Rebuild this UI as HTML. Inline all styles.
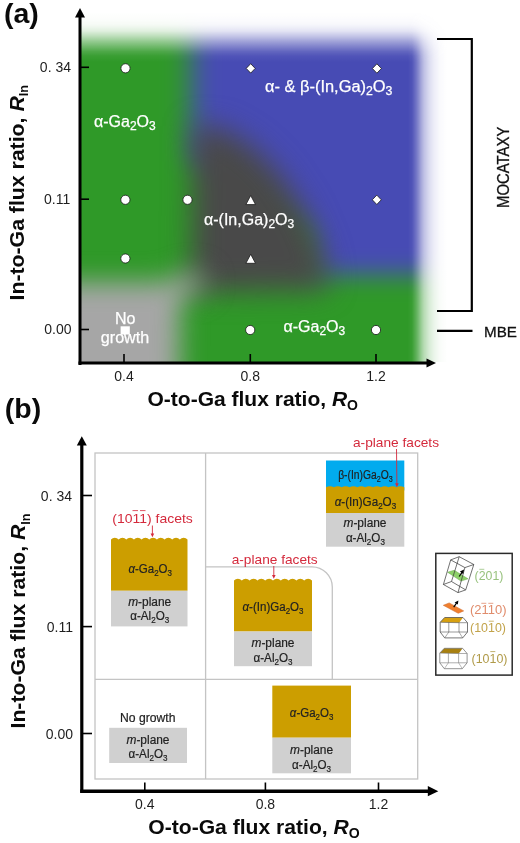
<!DOCTYPE html>
<html><head><meta charset="utf-8"><style>
html,body{margin:0;padding:0;background:#fff;width:520px;height:843px;overflow:hidden}
svg{display:block}
text{font-family:"Liberation Sans",Arial,sans-serif}
.w{fill:#fff;font-size:16px;stroke:#fff;stroke-width:0.25px}
.ax{font-size:14px;fill:#1e1e1e}
.lb{font-weight:bold;font-size:21px;fill:#0a0a0a}
.c{font-size:12.3px;fill:#222;stroke:#222;stroke-width:0.2px}
.r{font-size:13px;fill:#d42a3c}
</style></head><body>
<svg width="520" height="843" viewBox="0 0 520 843">
<defs>
<filter id="bl" x="-30%" y="-30%" width="160%" height="160%" color-interpolation-filters="sRGB"><feGaussianBlur stdDeviation="14 12"/></filter>
<filter id="bl2" x="-50%" y="-50%" width="200%" height="200%" color-interpolation-filters="sRGB"><feGaussianBlur stdDeviation="13"/></filter>
<filter id="bl3" x="-50%" y="-50%" width="200%" height="200%" color-interpolation-filters="sRGB"><feGaussianBlur stdDeviation="14"/></filter>
<linearGradient id="gtop" gradientUnits="userSpaceOnUse" x1="0" y1="0" x2="0" y2="100"><stop offset="0.1200" stop-color="#fff" stop-opacity="0"/><stop offset="0.2000" stop-color="#fff" stop-opacity="0.02"/><stop offset="0.2500" stop-color="#fff" stop-opacity="0.05"/><stop offset="0.3100" stop-color="#fff" stop-opacity="0.15"/><stop offset="0.3700" stop-color="#fff" stop-opacity="0.35"/><stop offset="0.4100" stop-color="#fff" stop-opacity="0.5"/><stop offset="0.4600" stop-color="#fff" stop-opacity="0.67"/><stop offset="0.5150" stop-color="#fff" stop-opacity="0.85"/><stop offset="0.5600" stop-color="#fff" stop-opacity="0.95"/><stop offset="0.6200" stop-color="#fff" stop-opacity="1"/></linearGradient>
<linearGradient id="gright" gradientUnits="userSpaceOnUse" x1="400" y1="0" x2="460" y2="0"><stop offset="0.1333" stop-color="#fff" stop-opacity="1"/><stop offset="0.2000" stop-color="#fff" stop-opacity="0.95"/><stop offset="0.2667" stop-color="#fff" stop-opacity="0.78"/><stop offset="0.3083" stop-color="#fff" stop-opacity="0.65"/><stop offset="0.3500" stop-color="#fff" stop-opacity="0.5"/><stop offset="0.4000" stop-color="#fff" stop-opacity="0.35"/><stop offset="0.4833" stop-color="#fff" stop-opacity="0.2"/><stop offset="0.5667" stop-color="#fff" stop-opacity="0.1"/><stop offset="0.6667" stop-color="#fff" stop-opacity="0.03"/><stop offset="0.7833" stop-color="#fff" stop-opacity="0"/></linearGradient>
<mask id="mtop" maskUnits="userSpaceOnUse" x="0" y="0" width="520" height="420"><rect x="0" y="0" width="520" height="100" fill="url(#gtop)"/><rect x="0" y="100" width="520" height="320" fill="#fff"/></mask>
<mask id="mright" maskUnits="userSpaceOnUse" x="0" y="0" width="520" height="420"><rect x="0" y="0" width="400" height="420" fill="#fff"/><rect x="400" y="0" width="60" height="420" fill="url(#gright)"/></mask>
<clipPath id="cpa"><rect x="81" y="0" width="439" height="362"/></clipPath>
</defs>
<text x="4" y="22.8" font-weight="bold" font-size="28.5" fill="#0a0a0a">(a)</text>
<g clip-path="url(#cpa)"><g mask="url(#mtop)"><g mask="url(#mright)"><g filter="url(#bl)">
<rect x="40" y="-30" width="460" height="430" fill="#2f9928"/>
<polygon points="191,-30 500,-30 500,275 310,275 310,230 250,190 191,160" fill="#474bb4"/>
</g><g filter="url(#bl3)">
<polygon points="193,126 222,128 252,146 280,174 304,210 322,252 328,290 200,292 191,290" fill="#494949"/>
</g><g filter="url(#bl2)">
<ellipse cx="194" cy="283" rx="14" ry="12" fill="#7c7c7c"/>
<polygon points="40,282 166,282 188,270 190,292 180,302 179,400 40,400" fill="#a6a6a6"/>
</g></g></g></g>
<line x1="80" y1="15" x2="80" y2="365" stroke="#000" stroke-width="3"/>
<polygon points="80,8 75,17.5 85,17.5" fill="#000"/>
<line x1="78.5" y1="363" x2="428" y2="363" stroke="#000" stroke-width="3"/>
<polygon points="436,363 426.5,358.5 426.5,367.5" fill="#000"/>
<g stroke="#000" stroke-width="1.6">
<line x1="80" y1="67.3" x2="89" y2="67.3"/>
<line x1="80" y1="199.2" x2="89" y2="199.2"/>
<line x1="80" y1="329.5" x2="89" y2="329.5"/>
<line x1="124" y1="362" x2="124" y2="354"/>
<line x1="250.3" y1="362" x2="250.3" y2="354"/>
<line x1="376" y1="362" x2="376" y2="354"/>
</g>
<text class="ax" x="71" y="71.7" text-anchor="end">0. 34</text>
<text class="ax" x="70.2" y="203.6" text-anchor="end">0.11</text>
<text class="ax" x="71.5" y="334.3" text-anchor="end">0.00</text>
<text class="ax" x="124" y="380.8" text-anchor="middle">0.4</text>
<text class="ax" x="250.3" y="380.8" text-anchor="middle">0.8</text>
<text class="ax" x="376" y="380.8" text-anchor="middle">1.2</text>
<g fill="#fff" stroke="#1a1a1a" stroke-width="0.8">
<circle cx="125.5" cy="68.3" r="4.6"/>
<circle cx="125.4" cy="199.8" r="4.6"/>
<circle cx="187.5" cy="199.8" r="4.6"/>
<circle cx="125.4" cy="258.5" r="4.6"/>
<circle cx="250.2" cy="330" r="4.6"/>
<circle cx="376" cy="330" r="4.6"/>
<polygon points="250.7,63.7 255.2,68.4 250.7,73.10000000000001 246.2,68.4"/>
<polygon points="376.9,63.8 381.4,68.5 376.9,73.2 372.4,68.5"/>
<polygon points="376.8,195.10000000000002 381.3,199.8 376.8,204.5 372.3,199.8"/>
<polygon points="250.7,195.5 255.5,204.60000000000002 245.89999999999998,204.60000000000002"/>
<polygon points="250.7,254.2 255.5,263.3 245.89999999999998,263.3"/>
<rect x="120.6" y="326.3" width="9.2" height="8.2" stroke="none"/>
</g>
<text class="w" x="94" y="127.3"><tspan dy="0">α-Ga</tspan><tspan font-size="12" dy="3">2</tspan><tspan dy="-3">O</tspan><tspan font-size="12" dy="3">3</tspan></text>
<text class="w" x="265" y="92.3" textLength="127.5" lengthAdjust="spacingAndGlyphs"><tspan dy="0">α- &amp; β-(In,Ga)</tspan><tspan font-size="12" dy="3">2</tspan><tspan dy="-3">O</tspan><tspan font-size="12" dy="3">3</tspan></text>
<text class="w" x="204" y="225"><tspan dy="0">α-(In,Ga)</tspan><tspan font-size="12" dy="3">2</tspan><tspan dy="-3">O</tspan><tspan font-size="12" dy="3">3</tspan></text>
<text class="w" x="283.5" y="332"><tspan dy="0">α-Ga</tspan><tspan font-size="12" dy="3">2</tspan><tspan dy="-3">O</tspan><tspan font-size="12" dy="3">3</tspan></text>
<text class="w" x="125.3" y="323.5" font-size="16" text-anchor="middle">No</text>
<text class="w" x="125" y="343.2" font-size="14.5" text-anchor="middle" textLength="48.4" lengthAdjust="spacingAndGlyphs">growth</text>
<text class="lb" transform="translate(23.8,300.5) rotate(-90)" textLength="215.5" lengthAdjust="spacingAndGlyphs">In-to-Ga flux ratio, <tspan font-style="italic">R</tspan><tspan font-size="12.5" dy="4.5">In</tspan></text>
<text class="lb" x="147.5" y="405.5" textLength="210.5" lengthAdjust="spacingAndGlyphs">O-to-Ga flux ratio, <tspan font-style="italic">R</tspan><tspan font-size="14" dy="4.5">O</tspan></text>
<g stroke="#000" stroke-width="2.2" fill="none"><polyline points="437,39 471.8,39 471.8,311 437,311"/><line x1="437" y1="330.8" x2="472.5" y2="330.8"/></g>
<text x="508.7" y="208" transform="rotate(-90 508.7 208)" font-size="16.3" fill="#111" stroke="#111" stroke-width="0.3" textLength="81.4" lengthAdjust="spacingAndGlyphs">MOCATAXY</text>
<text x="484" y="336.7" font-size="15.2" fill="#111" stroke="#111" stroke-width="0.3">MBE</text>
<text x="4.8" y="418.4" font-weight="bold" font-size="28.5" fill="#0a0a0a">(b)</text>
<g stroke="#c4c4c4" stroke-width="1.3" fill="none">
<rect x="95" y="453" width="322.7" height="326"/>
<line x1="205.6" y1="453" x2="205.6" y2="779"/>
<line x1="95" y1="679.3" x2="417.7" y2="679.3"/>
<path d="M205.6,566.8 H312 A20.3,20.3 0 0 1 332.3,587 V679.3"/>
</g>
<line x1="81.8" y1="444" x2="81.8" y2="792.8" stroke="#000" stroke-width="3.2"/>
<polygon points="81.8,436.2 76.8,445.6 86.8,445.6" fill="#000"/>
<line x1="80.2" y1="791.2" x2="429" y2="791.2" stroke="#000" stroke-width="3.6"/>
<polygon points="438.3,791.2 427.8,786.1 427.8,796.3" fill="#000"/>
<g stroke="#000" stroke-width="1.6">
<line x1="82" y1="495.5" x2="92" y2="495.5"/>
<line x1="82" y1="626.6" x2="92" y2="626.6"/>
<line x1="82" y1="733.5" x2="92" y2="733.5"/>
<line x1="144.8" y1="790" x2="144.8" y2="782.5"/>
<line x1="265.4" y1="790" x2="265.4" y2="782.5"/>
<line x1="378.5" y1="790" x2="378.5" y2="782.5"/>
</g>
<text class="ax" x="72" y="501" text-anchor="end">0. 34</text>
<text class="ax" x="73" y="631.8" text-anchor="end">0.11</text>
<text class="ax" x="73" y="738.6" text-anchor="end">0.00</text>
<text class="ax" x="144.8" y="808.8" text-anchor="middle">0.4</text>
<text class="ax" x="265.4" y="808.8" text-anchor="middle">0.8</text>
<text class="ax" x="378.5" y="808.8" text-anchor="middle">1.2</text>
<text class="lb" transform="translate(25.1,728.5) rotate(-90)" textLength="215" lengthAdjust="spacingAndGlyphs">In-to-Ga flux ratio, <tspan font-style="italic">R</tspan><tspan font-size="12.5" dy="4.5">In</tspan></text>
<text class="lb" x="148.3" y="833.8" textLength="211.5" lengthAdjust="spacingAndGlyphs">O-to-Ga flux ratio, <tspan font-style="italic">R</tspan><tspan font-size="14" dy="4.5">O</tspan></text>
<path d="M111.00,590.80 L111.00,539.50 a4.96,4.96 0 0 1 7.65,0 a4.96,4.96 0 0 1 7.65,0 a4.96,4.96 0 0 1 7.65,0 a4.96,4.96 0 0 1 7.65,0 a4.96,4.96 0 0 1 7.65,0 a4.96,4.96 0 0 1 7.65,0 a4.96,4.96 0 0 1 7.65,0 a4.96,4.96 0 0 1 7.65,0 a4.96,4.96 0 0 1 7.65,0 a4.96,4.96 0 0 1 7.65,0 L187.50,590.80 Z" fill="#cc9e00"/>
<rect x="111" y="590.8" width="76.5" height="35.6" fill="#d0d0d0"/>
<text class="c" x="150.2" y="572.5" text-anchor="middle" textLength="43.5" lengthAdjust="spacingAndGlyphs"><tspan font-style="italic" dy="0">α</tspan><tspan dy="0">-Ga</tspan><tspan font-size="8.5" dy="3">2</tspan><tspan dy="-3">O</tspan><tspan font-size="8.5" dy="3">3</tspan></text>
<text class="c" x="149.7" y="606.2" text-anchor="middle" textLength="43" lengthAdjust="spacingAndGlyphs"><tspan font-style="italic" dy="0">m</tspan><tspan dy="0">-plane</tspan></text>
<text class="c" x="149.7" y="620" text-anchor="middle" textLength="39" lengthAdjust="spacingAndGlyphs"><tspan dy="0">α-Al</tspan><tspan font-size="8.5" dy="3">2</tspan><tspan dy="-3">O</tspan><tspan font-size="8.5" dy="3">3</tspan></text>
<text class="r" x="152.6" y="522.5" text-anchor="middle" textLength="80.5" lengthAdjust="spacingAndGlyphs">(1011) facets</text>
<g stroke="#d42a3c" stroke-width="0.8"><line x1="132.5" y1="510.6" x2="138" y2="510.6"/><line x1="140" y1="510.6" x2="145.5" y2="510.6"/></g>
<path d="M234.00,631.50 L234.00,580.60 a5.12,5.12 0 0 1 7.80,0 a5.12,5.12 0 0 1 7.80,0 a5.12,5.12 0 0 1 7.80,0 a5.12,5.12 0 0 1 7.80,0 a5.12,5.12 0 0 1 7.80,0 a5.12,5.12 0 0 1 7.80,0 a5.12,5.12 0 0 1 7.80,0 a5.12,5.12 0 0 1 7.80,0 a5.12,5.12 0 0 1 7.80,0 a5.12,5.12 0 0 1 7.80,0 L312.00,631.50 Z" fill="#cc9e00"/>
<rect x="234" y="631.5" width="78" height="34.7" fill="#d0d0d0"/>
<text class="c" x="273" y="610.5" text-anchor="middle" textLength="61" lengthAdjust="spacingAndGlyphs"><tspan font-style="italic" dy="0">α</tspan><tspan dy="0">-(In)Ga</tspan><tspan font-size="8.5" dy="3">2</tspan><tspan dy="-3">O</tspan><tspan font-size="8.5" dy="3">3</tspan></text>
<text class="c" x="273" y="647" text-anchor="middle" textLength="43" lengthAdjust="spacingAndGlyphs"><tspan font-style="italic" dy="0">m</tspan><tspan dy="0">-plane</tspan></text>
<text class="c" x="273" y="661.5" text-anchor="middle" textLength="39" lengthAdjust="spacingAndGlyphs"><tspan dy="0">α-Al</tspan><tspan font-size="8.5" dy="3">2</tspan><tspan dy="-3">O</tspan><tspan font-size="8.5" dy="3">3</tspan></text>
<text class="r" x="274.7" y="563.5" text-anchor="middle" textLength="86" lengthAdjust="spacingAndGlyphs">a-plane facets</text>
<rect x="326" y="460.5" width="78.3" height="30" fill="#02abee"/>
<path d="M326.00,513.00 L326.00,487.30 a8.16,8.16 0 0 1 7.83,0 a8.16,8.16 0 0 1 7.83,0 a8.16,8.16 0 0 1 7.83,0 a8.16,8.16 0 0 1 7.83,0 a8.16,8.16 0 0 1 7.83,0 a8.16,8.16 0 0 1 7.83,0 a8.16,8.16 0 0 1 7.83,0 a8.16,8.16 0 0 1 7.83,0 a8.16,8.16 0 0 1 7.83,0 a8.16,8.16 0 0 1 7.83,0 L404.30,513.00 Z" fill="#cc9e00"/>
<rect x="326" y="513" width="78.3" height="33.7" fill="#d0d0d0"/>
<text class="c" x="365.4" y="479.3" text-anchor="middle" textLength="54.5" lengthAdjust="spacingAndGlyphs"><tspan dy="0">β-(In)Ga</tspan><tspan font-size="8.5" dy="3">2</tspan><tspan dy="-3">O</tspan><tspan font-size="8.5" dy="3">3</tspan></text>
<text class="c" x="365.4" y="505.8" text-anchor="middle" textLength="61.5" lengthAdjust="spacingAndGlyphs"><tspan font-style="italic" dy="0">α</tspan><tspan dy="0">-(In)Ga</tspan><tspan font-size="8.5" dy="3">2</tspan><tspan dy="-3">O</tspan><tspan font-size="8.5" dy="3">3</tspan></text>
<text class="c" x="365" y="526.8" text-anchor="middle" textLength="43" lengthAdjust="spacingAndGlyphs"><tspan font-style="italic" dy="0">m</tspan><tspan dy="0">-plane</tspan></text>
<text class="c" x="365.4" y="541.5" text-anchor="middle" textLength="39" lengthAdjust="spacingAndGlyphs"><tspan dy="0">α-Al</tspan><tspan font-size="8.5" dy="3">2</tspan><tspan dy="-3">O</tspan><tspan font-size="8.5" dy="3">3</tspan></text>
<text class="r" x="396" y="447" text-anchor="middle" textLength="86" lengthAdjust="spacingAndGlyphs">a-plane facets</text>
<text class="c" x="147.7" y="721.7" text-anchor="middle" fill="#1a1a1a" textLength="55.4" lengthAdjust="spacingAndGlyphs">No growth</text>
<rect x="109.2" y="727.8" width="77.8" height="35.2" fill="#d0d0d0"/>
<text class="c" x="148" y="743.5" text-anchor="middle" textLength="43" lengthAdjust="spacingAndGlyphs"><tspan font-style="italic" dy="0">m</tspan><tspan dy="0">-plane</tspan></text>
<text class="c" x="148" y="757.5" text-anchor="middle" textLength="39" lengthAdjust="spacingAndGlyphs"><tspan dy="0">α-Al</tspan><tspan font-size="8.5" dy="3">2</tspan><tspan dy="-3">O</tspan><tspan font-size="8.5" dy="3">3</tspan></text>
<rect x="272.3" y="685.6" width="78.7" height="52.1" fill="#cc9e00"/>
<rect x="272.3" y="737.7" width="78.7" height="35.6" fill="#d0d0d0"/>
<text class="c" x="311.6" y="717" text-anchor="middle" textLength="43.5" lengthAdjust="spacingAndGlyphs"><tspan font-style="italic" dy="0">α</tspan><tspan dy="0">-Ga</tspan><tspan font-size="8.5" dy="3">2</tspan><tspan dy="-3">O</tspan><tspan font-size="8.5" dy="3">3</tspan></text>
<text class="c" x="311.6" y="754.3" text-anchor="middle" textLength="43" lengthAdjust="spacingAndGlyphs"><tspan font-style="italic" dy="0">m</tspan><tspan dy="0">-plane</tspan></text>
<text class="c" x="311.6" y="768.8" text-anchor="middle" textLength="39" lengthAdjust="spacingAndGlyphs"><tspan dy="0">α-Al</tspan><tspan font-size="8.5" dy="3">2</tspan><tspan dy="-3">O</tspan><tspan font-size="8.5" dy="3">3</tspan></text>
<g stroke="#d42a3c" stroke-width="0.9" fill="#d42a3c">
<line x1="152.4" y1="525.5" x2="152.4" y2="535"/><polygon points="150.6,533.5 154.2,533.5 152.4,537.3" stroke="none"/>
<line x1="273.8" y1="566" x2="273.8" y2="576.5"/><polygon points="272,575 275.6,575 273.8,578.8" stroke="none"/>
<line x1="396.5" y1="449" x2="396.9" y2="484.5"/><polygon points="395.1,483.3 398.7,483.3 396.9,487.3" stroke="none"/>
</g>
<rect x="435.8" y="553.4" width="76.4" height="121.7" fill="#fff" stroke="#2a2a2a" stroke-width="1.5"/>
<polygon points="447.6,572.2 454.2,570.3 468,578.8 461,581.1" fill="#8ed16a" stroke="#6aa84f" stroke-width="0.5"/>
<line x1="450.7" y1="559.9" x2="459.2" y2="556.7" stroke="#333" stroke-width="0.7"/>
<line x1="459.2" y1="556.7" x2="473.8" y2="564.5" stroke="#333" stroke-width="0.7"/>
<line x1="473.8" y1="564.5" x2="464.9" y2="567.6" stroke="#333" stroke-width="0.7"/>
<line x1="464.9" y1="567.6" x2="450.7" y2="559.9" stroke="#333" stroke-width="0.7"/>
<line x1="443.4" y1="584.5" x2="451.5" y2="581.5" stroke="#333" stroke-width="0.7"/>
<line x1="451.5" y1="581.5" x2="465.7" y2="589.9" stroke="#333" stroke-width="0.7"/>
<line x1="465.7" y1="589.9" x2="458.0" y2="592.6" stroke="#333" stroke-width="0.7"/>
<line x1="458.0" y1="592.6" x2="443.4" y2="584.5" stroke="#333" stroke-width="0.7"/>
<line x1="450.7" y1="559.9" x2="443.4" y2="584.5" stroke="#333" stroke-width="0.7"/>
<line x1="459.2" y1="556.7" x2="451.5" y2="581.5" stroke="#333" stroke-width="0.7"/>
<line x1="473.8" y1="564.5" x2="465.7" y2="589.9" stroke="#333" stroke-width="0.7"/>
<line x1="464.9" y1="567.6" x2="458.0" y2="592.6" stroke="#333" stroke-width="0.7"/>
<line x1="459.2" y1="576.5" x2="462.2" y2="572.2" stroke="#000" stroke-width="1.3"/><polygon points="464,569.5 459.9,571.6 463.2,573.9" fill="#000"/>
<polygon points="443.3,605.3 449.2,602.9 463.7,610.9 458.2,613.3" fill="#f07f2e" stroke="#c86020" stroke-width="0.5"/>
<line x1="453.7" y1="607.2" x2="456.6" y2="603" stroke="#000" stroke-width="1.3"/><polygon points="458.4,600.4 454.6,602.4 457.8,604.6" fill="#000"/>
<polygon points="440.2,622.3 444.7,617.5 463.0,617.5 459.2,622.7" fill="#d7a010"/><polygon points="440.2,622.3 444.7,617.5 463.0,617.5 467.5,622.7 467.5,632.0 462.7,637.9 444.7,637.9 440.2,632.0" fill="none" stroke="#555" stroke-width="0.8"/><polyline points="440.2,622.3 459.2,622.7 467.5,622.7" fill="none" stroke="#555" stroke-width="0.6"/><polyline points="440.2,632.0 467.5,632.0" fill="none" stroke="#555" stroke-width="0.6"/><line x1="448.8" y1="622.4" x2="448.8" y2="632.0" stroke="#555" stroke-width="0.6"/><line x1="459.0" y1="622.7" x2="459.0" y2="632.0" stroke="#555" stroke-width="0.6"/><polyline points="444.7,637.9 448.8,632.0" fill="none" stroke="#555" stroke-width="0.5"/><polyline points="462.7,637.9 459.0,632.0" fill="none" stroke="#555" stroke-width="0.5"/>
<polygon points="439.8,653.1 444.3,648.3 462.6,648.3 458.8,653.5" fill="#a88010"/><polygon points="439.8,653.1 444.3,648.3 462.6,648.3 467.1,653.5 467.1,662.8 462.3,668.7 444.3,668.7 439.8,662.8" fill="none" stroke="#777" stroke-width="0.8"/><polyline points="439.8,653.1 458.8,653.5 467.1,653.5" fill="none" stroke="#777" stroke-width="0.6"/><polyline points="439.8,662.8 467.1,662.8" fill="none" stroke="#777" stroke-width="0.6"/><line x1="448.4" y1="653.2" x2="448.4" y2="662.8" stroke="#777" stroke-width="0.6"/><line x1="458.6" y1="653.5" x2="458.6" y2="662.8" stroke="#777" stroke-width="0.6"/><polyline points="444.3,668.7 448.4,662.8" fill="none" stroke="#777" stroke-width="0.5"/><polyline points="462.3,668.7 458.6,662.8" fill="none" stroke="#777" stroke-width="0.5"/>
<text x="474.6" y="579.6" font-size="12.8" fill="#98c27e" textLength="28.8" lengthAdjust="spacingAndGlyphs">(201)</text><line x1="479.3" y1="569.3" x2="484.3" y2="569.3" stroke="#98c27e" stroke-width="0.8"/>
<text x="470" y="613.6" font-size="12.8" fill="#e08c6c" textLength="36.6" lengthAdjust="spacingAndGlyphs">(2110)</text><line x1="481.3" y1="603.3" x2="486.3" y2="603.3" stroke="#e08c6c" stroke-width="0.8"/><line x1="488.3" y1="603.3" x2="493.3" y2="603.3" stroke="#e08c6c" stroke-width="0.8"/>
<text x="470" y="632.2" font-size="12.8" fill="#c2a34a" textLength="36" lengthAdjust="spacingAndGlyphs">(1010)</text><line x1="488.8" y1="621.2" x2="493.8" y2="621.2" stroke="#c2a34a" stroke-width="0.8"/>
<text x="471.5" y="662.6" font-size="12.8" fill="#b09a48" textLength="36" lengthAdjust="spacingAndGlyphs">(1010)</text><line x1="490.3" y1="651.6" x2="495.3" y2="651.6" stroke="#b09a48" stroke-width="0.8"/>
</svg>
</body></html>
